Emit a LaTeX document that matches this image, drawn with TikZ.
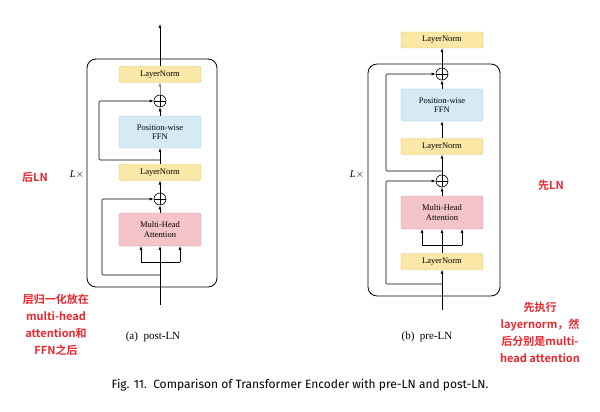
\documentclass[tikz,border=0pt]{standalone}
\usepackage{fontspec}
\setmainfont{Liberation Serif}
\newfontfamily\cjk{Noto Sans CJK SC}[BoldFont={* Bold}]
\newfontfamily\capf{Fira Sans}
\usetikzlibrary{arrows.meta}
\definecolor{lnf}{HTML}{FBE7A6}\definecolor{lnd}{HTML}{E6C46A}
\definecolor{fff}{HTML}{D5EAF5}\definecolor{ffd}{HTML}{A9CDE4}
\definecolor{mhf}{HTML}{F4C4C8}\definecolor{mhd}{HTML}{D9969E}
\definecolor{anno}{HTML}{E8272E}
\begin{document}
\begin{tikzpicture}[x=1pt,y=-1pt,
  blk/.style={draw,rounded corners=1.5pt,minimum width=82pt,align=center,font=\fontsize{8.5}{9.5}\selectfont,inner sep=1pt},
  ln/.style={blk,fill=lnf,draw=lnd,minimum height=16pt},
  ffn/.style={blk,fill=fff,draw=ffd,minimum height=32pt},
  mha/.style={blk,fill=mhf,draw=mhd,minimum height=33pt},
  plus/.style={draw,circle,minimum size=12pt,inner sep=0pt,line width=0.6pt},
  outer/.style={draw,rounded corners=9pt,line width=0.8pt},
  ar/.style={-{Latex[length=4pt,width=3pt]},line width=0.6pt},
  red/.style={text=anno,font=\cjk\bfseries\fontsize{11}{17}\selectfont,align=center},
]
\useasboundingbox (0,0) rectangle (600,412);
\fill[white] (0,0) rectangle (600,412);
% ---------- post-LN ----------
\draw[outer] (87,59) rectangle (217,287);
\node[ln] (a1) at (160,74.5) {LayerNorm};
\node[plus] (ap1) at (160,101) {};
\draw (ap1.north)--(ap1.south) (ap1.west)--(ap1.east);
\node[ffn] (aff) at (160,132) {Position-wise\\FFN};
\node[ln] (a2) at (160,172.5) {LayerNorm};
\node[plus] (ap2) at (160,199) {};
\draw (ap2.north)--(ap2.south) (ap2.west)--(ap2.east);
\node[mha] (amh) at (160,229.5) {Multi-Head\\Attention};
\coordinate (ain) at (160,305);
\coordinate (aout) at (160,24);
\coordinate (af) at (160,262);
\coordinate (ar) at (160,275);
\coordinate (ar2) at (160,160);
\draw[line width=0.6pt] (ain)--(af);
\draw[ar] (af)--(af|-amh.south);
\draw[line width=0.6pt] (141,262)--(180,262);
\draw[ar] (141,262)--(141,246);
\draw[ar] (180,262)--(180,246);
\draw[ar] (amh.north)--(ap2.south);
\draw[ar] (ap2.north)--(a2.south);
\draw[ar] (a2.north)--(aff.south);
\draw[ar] (aff.north)--(ap1.south);
\draw[ar,gray] (ap1.north)--(a1.south);
\draw[ar] (a1.north)--(aout);
\draw[ar,rounded corners=1pt] (ar)-|(102,199)--(ap2.west);
\draw[ar,rounded corners=1pt] (ar2)-|(99,101)--(ap1.west);
\node[font=\fontsize{10.5}{12}\selectfont\itshape] (al) at (77,175) {L\normalfont$\times$};
\node[font=\fontsize{11}{13}\selectfont] (acap) at (153,337) {(a)\ \ post-LN};
\node[red] (ar1) at (35,177) {后LN};
\node[red] (ar2t) at (56,325) {层归一化放在\\multi-head\\attention和\\FFN之后};
% ---------- pre-LN ----------
\draw[outer] (368,64) rectangle (500,296);
\node[ln] (b0) at (442,40) {LayerNorm};
\node[plus] (bp1) at (442,74) {};
\draw (bp1.north)--(bp1.south) (bp1.west)--(bp1.east);
\node[ffn] (bff) at (442,105) {Position-wise\\FFN};
\node[ln] (b1) at (442,146.5) {LayerNorm};
\node[plus] (bp2) at (442,181) {};
\draw (bp2.north)--(bp2.south) (bp2.west)--(bp2.east);
\node[mha] (bmh) at (442,212.5) {Multi-Head\\Attention};
\node[ln] (b2) at (442,261.5) {LayerNorm};
\coordinate (bin) at (442,310);
\coordinate (bf) at (442,245);
\coordinate (br) at (442,284);
\coordinate (br2) at (442,171);
\draw[line width=0.6pt] (bin)--(br);
\draw[ar] (br)--(b2.south);
\draw[line width=0.6pt] (b2.north)--(bf);
\draw[ar] (bf)--(bf|-bmh.south);
\draw[line width=0.6pt] (422,245)--(462,245);
\draw[ar] (422,245)--(422,229);
\draw[ar] (462,245)--(462,229);
\draw[ar] (bmh.north)--(bp2.south);
\draw[ar] (bp2.north)--(b1.south);
\draw[ar] (b1.north)--(bff.south);
\draw[ar] (bff.north)--(bp1.south);
\draw[ar] (bp1.north)--(b0.south);
\draw[ar,rounded corners=1pt] (br)-|(386,181)--(bp2.west);
\draw[ar,rounded corners=1pt] (br2)-|(386,74)--(bp1.west);
\node[font=\fontsize{10.5}{12}\selectfont\itshape] (bl) at (357,175) {L\normalfont$\times$};
\node[font=\fontsize{11}{13}\selectfont] (bcap) at (427,337) {(b)\ \ pre-LN};
\node[red] (br1) at (551,185) {先LN};
\node[red] (br2t) at (540,332) {先执行\\layernorm，然\\后分别是multi-\\head attention};
% caption
\node[font=\capf\fontsize{12}{14}\selectfont] (cap) at (300,385) {Fig. 11.\ \ Comparison of Transformer Encoder with pre-LN and post-LN.};
\end{tikzpicture}
\end{document}
